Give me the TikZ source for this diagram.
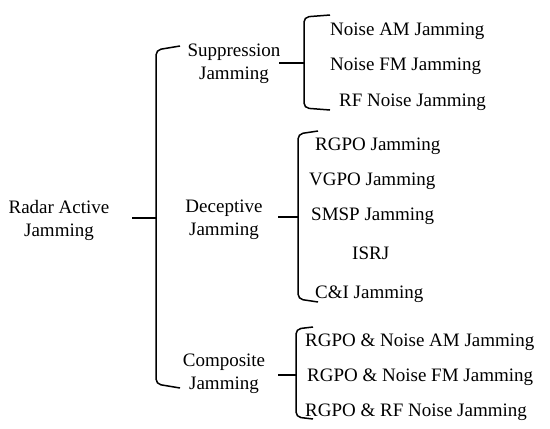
\documentclass[tikz,border=0pt]{standalone}
\usepackage{fontspec}
\setmainfont{Liberation Serif}
\usepackage{tikz}
\usetikzlibrary{positioning, calc}
\tikzstyle{root} = [align=center, inner sep=0pt, font=\fontsize{19}{23}\selectfont]
\tikzstyle{group} = [align=center, inner sep=0pt, font=\fontsize{19}{23}\selectfont]
\tikzstyle{leaf} = [anchor=base west, inner sep=0pt, font=\fontsize{19}{23}\selectfont]
\tikzstyle{link} = [line width=1.5pt]
\tikzstyle{brace} = [line width=1.5pt, rounded corners=5pt]

\begin{document}
\begin{tikzpicture}[x=1pt, y=-1pt]
  \useasboundingbox (0,0) rectangle (550,429);

  \node (radar) [root] at (59,220) {Radar Active\\Jamming};
  \node (supp) [group] at (234,64) {Suppression\\Jamming};
  \node (decep) [group] at (224,220) {Deceptive\\Jamming};
  \node (comp) [group] at (224,374) {Composite\\Jamming};

  % suppression jamming
  \node (am) [leaf] at (330,35) {Noise AM Jamming};
  \node (fm) [leaf] at (330,70) {Noise FM Jamming};
  \node (rf) [leaf] at (339,106) {RF Noise Jamming};

  % deceptive jamming
  \node (rgpo) [leaf] at (315,150) {RGPO Jamming};
  \node (vgpo) [leaf] at (309,185) {VGPO Jamming};
  \node (smsp) [leaf] at (311,220) {SMSP Jamming};
  \node (isrj) [leaf] at (352,259) {ISRJ};
  \node (ci) [leaf] at (315,298) {C\&I Jamming};

  % composite jamming
  \node (rgpoam) [leaf] at (305,346) {RGPO \& Noise AM Jamming};
  \node (rgpofm) [leaf] at (307,381) {RGPO \& Noise FM Jamming};
  \node (rgporf) [leaf] at (305,416) {RGPO \& RF Noise Jamming};

  % bracket points
  \coordinate (radar-out) at (132,218);
  \coordinate (b1-mid) at (156,218);
  \coordinate (b1-top) at (180,46);
  \coordinate (b1-bot) at (180,388);
  \coordinate (supp-out) at (279,63);
  \coordinate (b2-mid) at (304,63);
  \coordinate (b2-top) at (330,15);
  \coordinate (b2-bot) at (330,110);
  \coordinate (decep-out) at (278,217);
  \coordinate (b3-mid) at (298,217);
  \coordinate (b3-top) at (318,131);
  \coordinate (b3-bot) at (318,302);
  \coordinate (comp-out) at (278,375);
  \coordinate (b4-mid) at (296,375);
  \coordinate (b4-top) at (313,327);
  \coordinate (b4-bot) at (313,419);

  \draw[link] (radar-out) -- (b1-mid);
  \draw[brace] (b1-top) -- ($(b1-mid |- b1-top)+(0,4)$) -- ($(b1-mid |- b1-bot)+(0,-4)$) -- (b1-bot);
  \draw[link] (supp-out) -- (b2-mid);
  \draw[brace] (b2-top) -- ($(b2-mid |- b2-top)+(0,2)$) -- ($(b2-mid |- b2-bot)+(0,-2)$) -- (b2-bot);
  \draw[link] (decep-out) -- (b3-mid);
  \draw[brace] (b3-top) -- ($(b3-mid |- b3-top)+(0,3)$) -- ($(b3-mid |- b3-bot)+(0,-3)$) -- (b3-bot);
  \draw[link] (comp-out) -- (b4-mid);
  \draw[brace] (b4-top) -- ($(b4-mid |- b4-top)+(0,2)$) -- ($(b4-mid |- b4-bot)+(0,-2)$) -- (b4-bot);
\end{tikzpicture}
\end{document}
